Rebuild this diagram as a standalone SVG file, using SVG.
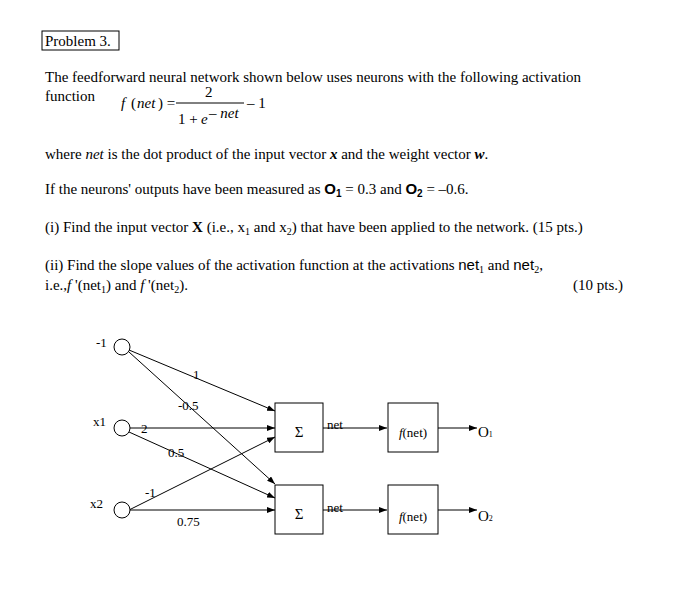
<svg xmlns="http://www.w3.org/2000/svg" width="695" height="596" viewBox="0 0 695 596">
<defs><marker id="a" markerWidth="8" markerHeight="6" refX="8" refY="3" orient="auto" markerUnits="userSpaceOnUse"><path d="M0,0 L8,3 L0,6z" fill="#000"/></marker>
<style>text{font-family:"Liberation Serif",serif;font-size:15px;fill:#000}.s{font-family:"Liberation Sans",sans-serif;font-weight:bold}.d{font-size:13px}.n{fill:#fff;stroke:#000;stroke-width:1}line{stroke:#000;stroke-width:1}</style></defs>
<rect width="695" height="596" fill="#fff"/>
<rect x="42" y="31" width="77" height="19" fill="none" stroke="#000"/>
<text x="45" y="46">Problem 3.</text>
<text x="45" y="82">The feedforward neural network shown below uses neurons with the following activation</text>
<text x="45" y="101">function</text>
<text x="121" y="108" font-style="italic">f</text><text x="131" y="108">(</text><text x="137" y="108" font-style="italic">net</text><text x="158" y="108">) =</text>
<line x1="176" y1="103" x2="244" y2="103"/>
<text x="205" y="97">2</text>
<text x="178" y="124">1 + </text><text x="201" y="124" font-style="italic">e</text><text x="209" y="118" font-style="italic">– net</text>
<text x="247" y="108">– 1</text>
<text x="45" y="159">where <tspan font-style="italic">net</tspan> is the dot product of the input vector <tspan font-style="italic" font-weight="bold">x</tspan> and the weight vector <tspan font-style="italic" font-weight="bold">w</tspan>.</text>
<text x="45" y="194">If the neurons' outputs have been measured as <tspan class="s">O</tspan><tspan class="s" font-size="10" dy="3">1</tspan><tspan dy="-3"> = 0.3 and </tspan><tspan class="s">O</tspan><tspan class="s" font-size="10" dy="3">2</tspan><tspan dy="-3"> = –0.6.</tspan></text>
<text x="45" y="232">(i) Find the input vector <tspan font-weight="bold">X</tspan> (i.e., x<tspan font-size="10" dy="3">1</tspan><tspan dy="-3"> and x</tspan><tspan font-size="10" dy="3">2</tspan><tspan dy="-3">) that have been applied to the network.  (15 pts.)</tspan></text>
<text x="45" y="270">(ii) Find the slope values of the activation function at the activations <tspan font-family="Liberation Sans,sans-serif">net</tspan><tspan font-size="10" dy="3">1</tspan><tspan dy="-3"> and </tspan><tspan font-family="Liberation Sans,sans-serif">net</tspan><tspan font-size="10" dy="3">2</tspan><tspan dy="-3">,</tspan></text>
<text x="45" y="290">i.e.,<tspan font-style="italic">f</tspan> '(net<tspan font-size="10" dy="3">1</tspan><tspan dy="-3">) and </tspan><tspan font-style="italic">f</tspan> '(net<tspan font-size="10" dy="3">2</tspan><tspan dy="-3">).</tspan></text>
<text x="573" y="290">(10 pts.)</text>
<g id="connectors" marker-end="url(#a)">
<line x1="129" y1="350" x2="275" y2="411"/>
<line x1="129" y1="352" x2="275" y2="484"/>
<line x1="130" y1="428" x2="275" y2="428"/>
<line x1="129" y1="432" x2="275" y2="498"/>
<line x1="129" y1="510" x2="275" y2="437"/>
<line x1="130" y1="510" x2="275" y2="510"/>
<line x1="323" y1="428" x2="387" y2="428"/>
<line x1="323" y1="510" x2="387" y2="510"/>
<line x1="438" y1="428" x2="477" y2="428"/>
<line x1="438" y1="510" x2="477" y2="510"/>
</g>
<g class="d">
<text x="193" y="379" class="d">1</text>
<text x="178" y="410" class="d">-0.5</text>
<text x="141" y="433" class="d">2</text>
<text x="168" y="457" class="d">0.5</text>
<text x="145" y="497" class="d">-1</text>
<text x="177" y="526" class="d">0.75</text>
<text x="327" y="429" class="d">net</text>
<text x="327" y="512" class="d">net</text>
</g>
<g id="in_bias"><circle class="n" cx="122" cy="347" r="8"/><text x="96" y="347" class="d">-1</text></g>
<g id="in_x1"><circle class="n" cx="122" cy="428" r="8"/><text x="93" y="426" class="d">x1</text></g>
<g id="in_x2"><circle class="n" cx="122" cy="510" r="8"/><text x="90" y="508" class="d">x2</text></g>
<g id="sum1"><rect class="n" x="275" y="403" width="48" height="49"/><text x="299" y="437" text-anchor="middle" font-family="Liberation Serif,serif" font-size="26">Σ</text></g>
<g id="sum2"><rect class="n" x="275" y="485" width="48" height="49"/><text x="299" y="519" text-anchor="middle" font-size="26">Σ</text></g>
<g id="f1"><rect class="n" x="388" y="403" width="50" height="49"/><text x="413" y="437" text-anchor="middle" class="d"><tspan font-style="italic">f</tspan>(net)</text></g>
<g id="f2"><rect class="n" x="388" y="485" width="50" height="49"/><text x="413" y="521" text-anchor="middle" class="d"><tspan font-style="italic">f</tspan>(net)</text></g>
<g id="o1"><text x="478" y="437" font-size="12">O<tspan font-size="8">1</tspan></text></g>
<g id="o2"><text x="478" y="521" font-size="12">O<tspan font-size="8">2</tspan></text></g>
</svg>
